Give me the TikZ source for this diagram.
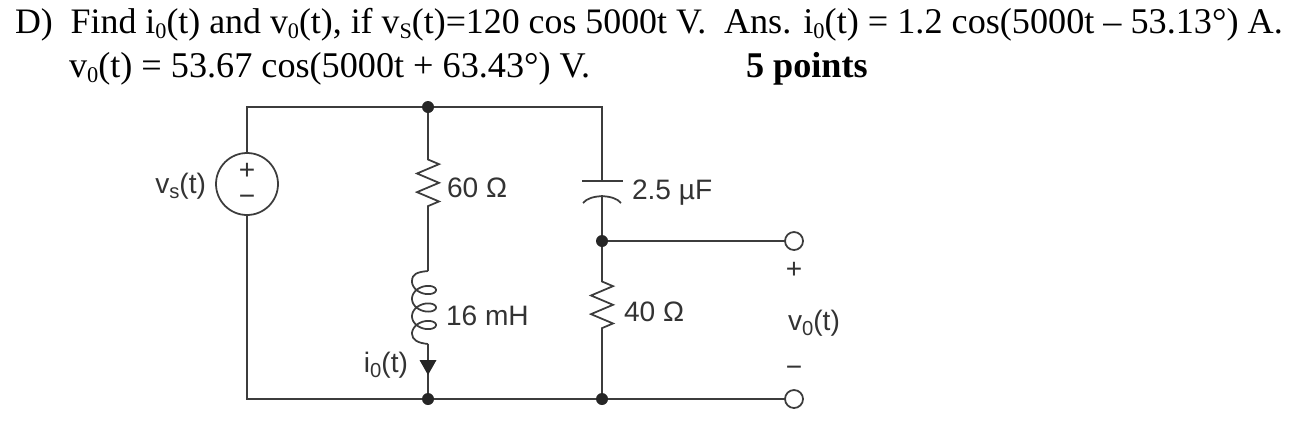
\documentclass[tikz,border=0pt]{standalone}
\usepackage{fontspec}
\setmainfont{Liberation Serif}
\setsansfont{Liberation Sans}
\usetikzlibrary{arrows.meta}
\usetikzlibrary{positioning}
\usetikzlibrary{decorations.pathmorphing}
\definecolor{wire}{HTML}{3C3C3C}
\newcommand{\lowidx}[1]{\raisebox{-0.14em}{\scalebox{0.62}{#1}}}
\newcommand{\compidx}[1]{\raisebox{-0.2em}{\scalebox{0.72}{#1}}}
\tikzset{
  % Define standard circuit looks
  wireline/.style={draw=wire, line width=1pt},
  junction/.style={circle, fill=black!85, minimum size=0.24cm},
  terminal/.style={circle, draw=wire, line width=1pt, fill=white, minimum size=0.36cm},
  headtext/.style={anchor=base west, font=\fontsize{20.6}{24}\selectfont},
  comptext/.style={anchor=base west, text=black!80, font=\sffamily\fontsize{16}{18}\selectfont},
  signtext/.style={text=black!80, font=\sffamily\fontsize{16}{16}\selectfont},
  resistor/.style={wireline, decorate, decoration={zigzag, segment length=0.373cm, amplitude=0.22cm, pre length=0.01cm, post length=0.01cm}},
}
\begin{document}
\begin{tikzpicture}[x=0.02cm, y=-0.02cm, inner sep=0, outer sep=0]
  \useasboundingbox (0, 0) rectangle (1304, 440);

  \node[headtext, font=\fontsize{20.4}{24}\selectfont] (line1) at (15, 33) {D)\hspace{0.5em}Find i\lowidx{0}(t) and v\lowidx{0}(t), if v\lowidx{S}(t)=120 cos 5000t V.};
  \node[headtext] (answer) at (724, 33) {Ans. i\lowidx{0}(t) = 1.2 cos(5000t – 53.13°) A.};
  \node[headtext] (line2) at (69, 77) {v\lowidx{0}(t) = 53.67 cos(5000t + 63.43°) V.};
  \node[headtext] (points) at (746, 77) {\textbf{5 points}};

  % corners and junctions
  \coordinate (topleft) at (247, 107);
  \coordinate (botleft) at (247, 399);
  \coordinate (topright) at (602, 107);
  \node[junction] (topmid) at (428, 107) {};
  \node[junction] (botmid) at (428, 399) {};
  \node[junction] (outtop) at (602, 241) {};
  \node[junction] (botright) at (602, 399) {};
  \node[terminal] (termtop) at (794, 241) {};
  \node[terminal] (termbot) at (794, 399) {};

  % source
  \node[circle, draw=wire, line width=1pt, minimum size=1.24cm] (source) at (247, 184) {};
  \node[signtext] (sourceplus) at (247, 171) {+};
  \node[signtext] (sourceminus) at (247, 200) {−};
  \node[comptext, anchor=base east] (vstext) at (206, 193) {v\compidx{s}(t)};

  % left and rails
  \coordinate (captop) at (602, 181);
  \draw[wireline] (source.north) -- (topleft) -- (topmid) -- (topright) -- (captop);
  \draw[wireline] (source.south) -- (botleft) -- (botmid) -- (botright) -- (termbot);
  \draw[wireline] (outtop) -- (termtop);

  % middle branch
  \coordinate (r60top) at (428, 159);
  \coordinate (r60bot) at (428, 215);
  \coordinate (coiltop) at (428, 271);
  \coordinate (coilbot) at (428, 344);
  \draw[wireline] (topmid) -- (r60top);
  \draw[resistor] (r60top) -- (r60bot);
  \draw[wireline] (r60bot) -- (coiltop);
  % coil
  \draw[wireline] (coiltop) .. controls (417, 272) and (412, 274) .. (412, 281.25)
    -- plot[domain=180:1260, samples=150, variable=\a] ({424+12*cos(\a)}, {272.5+\a/360*17.5-8*sin(\a)})
    .. controls (412, 340) and (418, 343) .. (coilbot);
  \draw[wireline] (coilbot) -- (botmid);
  \coordinate (arrowtip) at (428, 375);
  \fill[black!85] (arrowtip) -- (419.5, 360) -- (436.5, 360) -- cycle;
  \node[comptext] (r60text) at (447, 197) {60 Ω};
  \node[comptext] (coiltext) at (446, 325) {16 mH};
  \node[comptext, anchor=base east] (iotext) at (408, 372) {i\compidx{0}(t)};

  % right branch
  \coordinate (capa) at (582, 181);
  \coordinate (capb) at (623, 181);
  \coordinate (capc) at (583, 203);
  \coordinate (capd) at (621, 203);
  \coordinate (capmid) at (602, 195);
  \coordinate (r40top) at (602, 281);
  \coordinate (r40bot) at (602, 337);
  \draw[wireline] (capa) -- (capb);
  \draw[wireline] (capc) .. controls (590, 194) and (614, 194) .. (capd);
  \draw[wireline] (capmid) -- (outtop) -- (r40top);
  \draw[resistor] (r40top) -- (r40bot);
  \draw[wireline] (r40bot) -- (botright);
  \node[comptext] (captext) at (632, 199) {2.5 µF};
  \node[comptext] (r40text) at (624, 321) {40 Ω};

  % output
  \node[signtext] (outplus) at (794, 270) {+};
  \node[comptext] (votext) at (788, 330) {v\compidx{0}(t)};
  \node[signtext] (outminus) at (794, 371) {−};
\end{tikzpicture}
\end{document}
